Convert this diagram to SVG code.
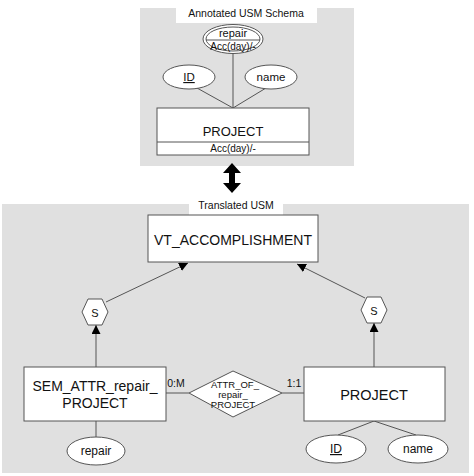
<svg xmlns="http://www.w3.org/2000/svg" width="474" height="476" viewBox="0 0 474 476">
<style>
text{font-family:"Liberation Sans",Arial,sans-serif;fill:#111;text-anchor:middle}
.box{fill:#fff;stroke:#555;stroke-width:1}
.ln{stroke:#555;stroke-width:1;fill:none}
.panel{fill:#e0e0e0}
</style>
<defs>
<marker id="ah" viewBox="0 0 10 10" refX="10" refY="5" markerWidth="9" markerHeight="9" markerUnits="userSpaceOnUse" orient="auto">
<path d="M0,0 L10,5 L0,10 z" fill="#000"/>
</marker>
</defs>
<g id="panels">
<rect class="panel" x="140" y="8" width="214" height="158"/>
<rect x="176" y="0" width="141" height="23" fill="#fff"/>
<text x="246" y="17" font-size="10.5">Annotated USM Schema</text>
<rect class="panel" x="2" y="204" width="467" height="269"/>
<rect x="189" y="198" width="94" height="17" fill="#fff"/>
<text x="236" y="209" font-size="10.5">Translated USM</text>
</g>
<g id="connectors">
<line class="ln" x1="233" y1="53" x2="233" y2="108"/>
<line class="ln" x1="197" y1="88" x2="233" y2="108"/>
<line class="ln" x1="266" y1="88" x2="233" y2="108"/>
<line class="ln" x1="106" y1="302" x2="188" y2="263" marker-end="url(#ah)"/>
<line class="ln" x1="365" y1="298" x2="297" y2="264" marker-end="url(#ah)"/>
<line class="ln" x1="96" y1="367" x2="96" y2="325" marker-end="url(#ah)"/>
<line class="ln" x1="374" y1="367" x2="374" y2="323" marker-end="url(#ah)"/>
<line class="ln" x1="166" y1="393" x2="189" y2="393"/>
<line class="ln" x1="282" y1="393" x2="304" y2="393"/>
<line class="ln" x1="96" y1="421" x2="96" y2="437"/>
<line class="ln" x1="374" y1="421" x2="338" y2="435"/>
<line class="ln" x1="374" y1="421" x2="416" y2="435"/>
<text x="176" y="387" font-size="10.5">0:M</text>
<text x="294" y="387" font-size="10.5">1:1</text>
</g>
<g id="transform-arrow">
<path d="M232,163 L241,173 L235,173 L235,183 L241,183 L232,193 L223,183 L229,183 L229,173 L223,173 z" fill="#000"/>
</g>
<g id="repair-top">
<ellipse cx="233" cy="39" rx="30" ry="14.5" class="box"/>
<ellipse cx="233" cy="39" rx="27" ry="12" class="box"/>
<line class="ln" x1="206" y1="40" x2="260" y2="40"/>
<text x="233" y="37" font-size="11">repair</text>
<text x="233" y="50" font-size="10">Acc(day)/-</text>
</g>
<g id="id-top">
<ellipse cx="189" cy="77" rx="26" ry="12" class="box"/>
<text x="189" y="81" font-size="11.5" text-decoration="underline">ID</text>
</g>
<g id="name-top">
<ellipse cx="271" cy="77" rx="26" ry="12" class="box"/>
<text x="271" y="81" font-size="11.5">name</text>
</g>
<g id="project-top">
<rect x="157" y="108" width="152" height="47" class="box"/>
<line class="ln" x1="157" y1="142" x2="309" y2="142"/>
<text x="233" y="136" font-size="13">PROJECT</text>
<text x="233" y="152" font-size="10">Acc(day)/-</text>
</g>
<g id="vt-accomplishment">
<rect x="148" y="215" width="170" height="47" class="box"/>
<text x="233" y="245" font-size="14">VT_ACCOMPLISHMENT</text>
</g>
<g id="s-left">
<polygon points="82,312 88,299 102,299 108,312 102,325 88,325" class="box"/>
<text x="95" y="317" font-size="11">S</text>
</g>
<g id="s-right">
<polygon points="361,310 367,297 381,297 387,310 381,323 367,323" class="box"/>
<text x="374" y="315" font-size="11">S</text>
</g>
<g id="sem-attr">
<rect x="24" y="367" width="142" height="54" class="box"/>
<text x="95" y="391" font-size="14">SEM_ATTR_repair_</text>
<text x="95" y="408" font-size="14">PROJECT</text>
</g>
<g id="attr-of">
<polygon points="189,393 233,371 282,393 233,417" class="box"/>
<text x="235" y="388" font-size="9.5">ATTR_OF_</text>
<text x="233" y="398" font-size="9.5">repair_</text>
<text x="233" y="408" font-size="9.5">PROJECT</text>
</g>
<g id="project">
<rect x="304" y="367" width="141" height="54" class="box"/>
<text x="374" y="400" font-size="14.5">PROJECT</text>
</g>
<g id="repair">
<ellipse cx="96" cy="451" rx="29" ry="14" class="box"/>
<text x="96" y="455" font-size="12">repair</text>
</g>
<g id="id">
<ellipse cx="336" cy="449" rx="30" ry="14" class="box"/>
<text x="336" y="453" font-size="12" text-decoration="underline">ID</text>
</g>
<g id="name">
<ellipse cx="418" cy="449" rx="30" ry="14" class="box"/>
<text x="418" y="453" font-size="12">name</text>
</g>
</svg>
